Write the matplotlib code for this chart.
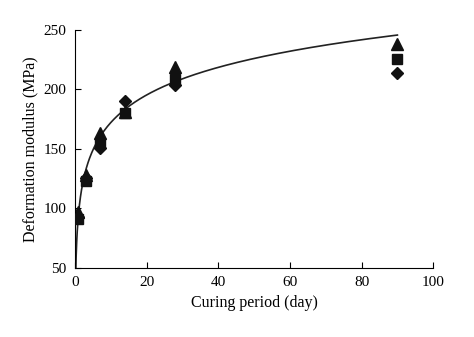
import numpy as np
import matplotlib.pyplot as plt

plt.rcParams['font.family'] = ['Liberation Serif', 'DejaVu Serif']

# Curing period (day)
days = [1, 3, 7, 14, 28, 90]
# Deformation modulus (MPa) for three specimens
triangles = [97, 128, 163, 181, 219, 238]
squares = [91, 123, 155, 180, 209, 226]
diamonds = [93, 126, 151, 190, 204, 214]

# Logarithmic trend line E = a*ln(t) + b, coefficients
fit_a = 33.5
fit_b = 95.0

fig = plt.figure(figsize=(4.74, 3.37), dpi=100)
ax = fig.add_axes([0.158, 0.205, 0.756, 0.706])

xf = np.linspace(0.05, 90, 600)
ax.plot(xf, fit_a * np.log(xf) + fit_b, color='#222222', lw=1.2, zorder=1)

ax.plot(days, triangles, '^', color='#111111', ms=8, zorder=2)
ax.plot(days, squares, 's', color='#111111', ms=7, zorder=3)
ax.plot(days, diamonds, 'D', color='#111111', ms=6, zorder=4)

ax.set_xlim(0, 100)
ax.set_ylim(50, 250)
ax.set_xticks(range(0, 101, 20))
ax.set_yticks(range(50, 251, 50))
ax.tick_params(direction='in', length=4, labelsize=11, width=0.8, pad=6)
ax.spines['top'].set_visible(False)
ax.spines['right'].set_visible(False)
ax.set_xlabel('Curing period (day)', fontsize=11.5)
ax.set_ylabel('Deformation modulus (MPa)', fontsize=11.5)

fig.savefig('out.png', dpi=100)
